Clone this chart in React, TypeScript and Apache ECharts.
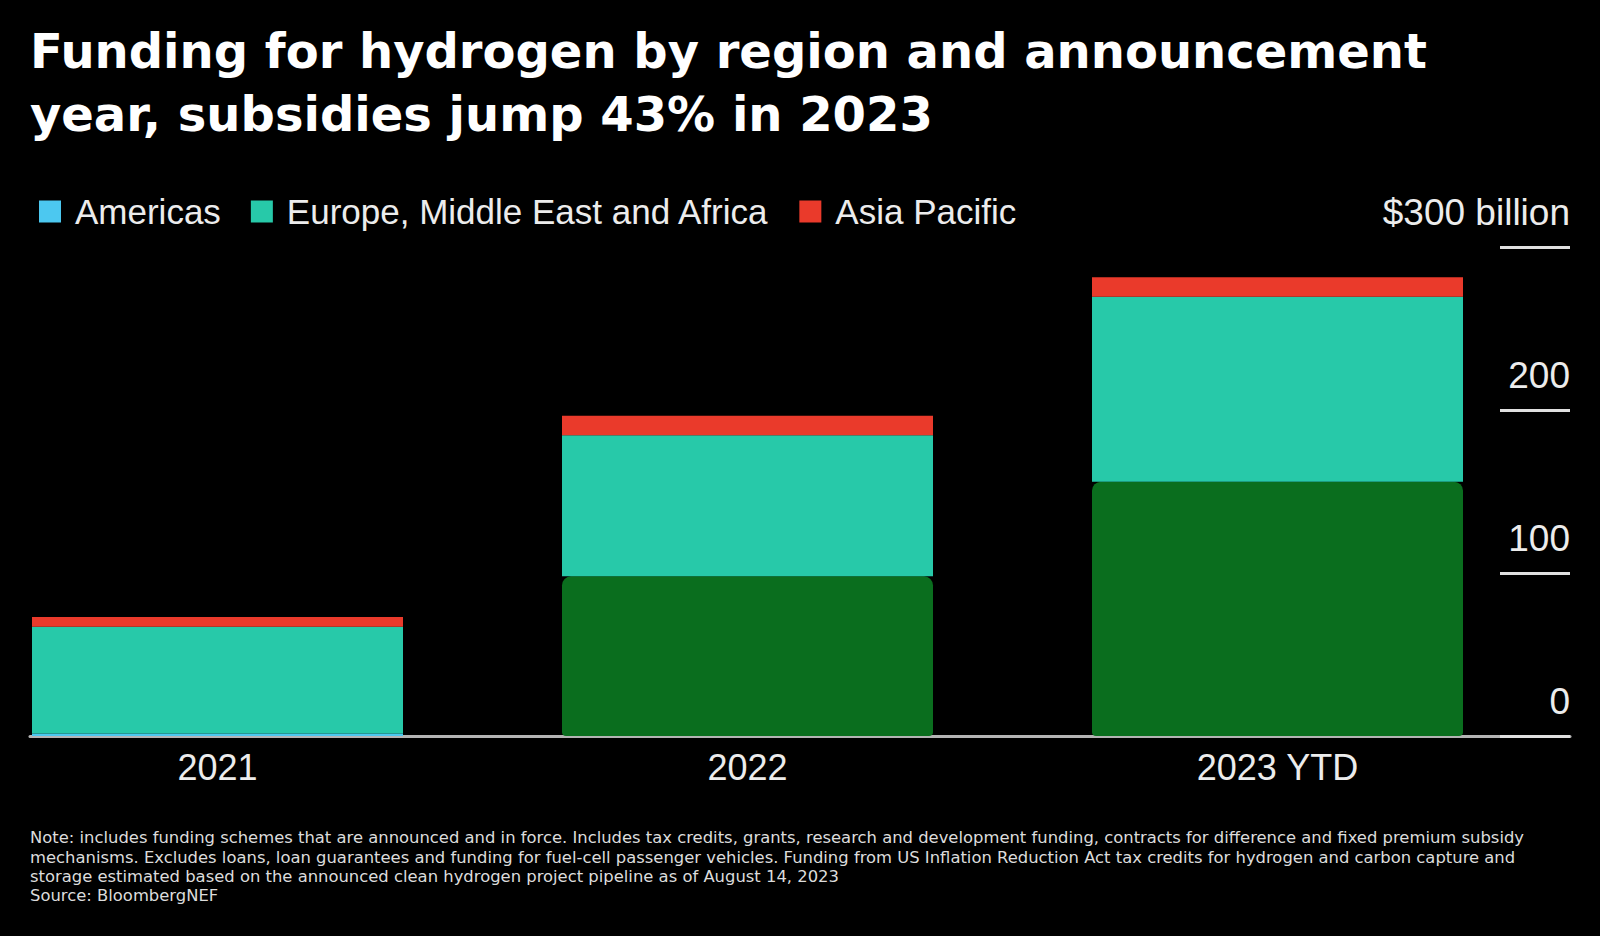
import React, { useEffect, useRef } from "react";
import * as echarts from "echarts";

const categories = ["2021", "2022", "2023 YTD"];
const seriesNames = ["Americas", "Europe, Middle East and Africa", "Asia Pacific"];
const americas = [1.5, 98, 156];
const emea = [65.5, 86.5, 113.5];
const asiaPacific = [6, 12, 12];

const titleLines = [
  "Funding for hydrogen by region and announcement",
  "year, subsidies jump 43% in 2023",
];
const noteLines = [
  "Note: includes funding schemes that are announced and in force. Includes tax credits, grants, research and development funding, contracts for difference and fixed premium subsidy",
  "mechanisms. Excludes loans, loan guarantees and funding for fuel-cell passenger vehicles. Funding from US Inflation Reduction Act tax credits for hydrogen and carbon capture and",
  "storage estimated based on the announced clean hydrogen project pipeline as of August 14, 2023",
  "Source: BloombergNEF",
];

const COLORS = {
  americas: "#4cc8f0",
  americasOverlay: "#0a6e1e",
  emea: "#27c9a9",
  apac: "#ea3a2b",
  text: "#ececec",
  axis: "#b4b4b4",
};

const SANS = "'Liberation Sans', Arial, sans-serif";

export default function App() {
  const ref = useRef<HTMLDivElement>(null);
  useEffect(() => {
    if (!ref.current) return;
    const chart = echarts.init(ref.current, null, { renderer: "svg" });
    const top = 247;
    const bottom = 200;
    const barCommon = {
      type: "bar",
      stack: "total",
      barWidth: 371,
      clip: false,
      xAxisIndex: 0,
      yAxisIndex: 0,
    };
    const option: any = {
      animation: false,
      backgroundColor: "#000",
      graphic: [
        {
          type: "text",
          left: 30,
          top: 19,
          style: {
            text: titleLines.join("\n"),
            fill: "#fff",
            font: "bold 48px 'DejaVu Sans'",
            lineHeight: 63,
          },
        },
        {
          type: "text",
          left: 30,
          top: 828,
          style: {
            text: noteLines.join("\n"),
            fill: "#dcdcdc",
            font: "16.4px 'DejaVu Sans'",
            lineHeight: 19.4,
          },
        },
      ],
      legend: {
        left: 34,
        top: 189,
        icon: "rect",
        itemWidth: 22,
        itemHeight: 22,
        itemGap: 30,
        data: seriesNames,
        textStyle: {
          color: COLORS.text,
          fontSize: 35,
          fontFamily: SANS,
          padding: [0, 0, 0, 9],
        },
      },
      grid: [
        { left: 217.5, right: 322.5, top, bottom },
        { left: 30, right: 30, top, bottom },
      ],
      xAxis: [
        {
          type: "category",
          gridIndex: 0,
          boundaryGap: false,
          data: categories,
          axisLine: { show: false },
          axisTick: { show: false },
          splitLine: { show: false },
          axisLabel: {
            interval: 0,
            color: COLORS.text,
            fontSize: 36,
            fontFamily: SANS,
            margin: 13,
          },
        },
        {
          type: "category",
          gridIndex: 1,
          data: categories,
          axisLine: { show: true, lineStyle: { color: COLORS.axis, width: 3 } },
          axisTick: { show: false },
          axisLabel: { show: false },
          splitLine: { show: false },
        },
      ],
      yAxis: [
        {
          type: "value",
          gridIndex: 0,
          min: 0,
          max: 300,
          interval: 100,
          show: false,
          splitLine: { show: false },
        },
        {
          type: "value",
          gridIndex: 1,
          position: "right",
          min: 0,
          max: 300,
          interval: 100,
          splitLine: { show: false },
          axisLine: { show: false, onZero: false },
          axisTick: {
            show: true,
            inside: true,
            length: 70,
            lineStyle: { color: "#e0e0e0", width: 3 },
          },
          axisLabel: {
            inside: true,
            margin: 0,
            color: COLORS.text,
            fontSize: 37,
            fontFamily: SANS,
            verticalAlign: "bottom",
            align: "right",
            padding: [0, 0, 16, 0],
            formatter: (v: number) => (v === 300 ? "$300 billion" : String(v)),
          },
        },
      ],
      series: [
        {
          ...barCommon,
          name: seriesNames[0],
          itemStyle: { color: COLORS.americas },
          data: americas.map((v, i) =>
            i === 0
              ? { value: v }
              : {
                  value: v,
                  itemStyle: {
                    color: COLORS.americasOverlay,
                    borderRadius: [9, 9, 4, 4],
                  },
                }
          ),
        },
        {
          ...barCommon,
          name: seriesNames[1],
          itemStyle: { color: COLORS.emea },
          data: emea,
        },
        {
          ...barCommon,
          name: seriesNames[2],
          itemStyle: { color: COLORS.apac },
          data: asiaPacific,
        },
      ],
    };
    chart.setOption(option);
    return () => chart.dispose();
  }, []);
  return (
    <div
      ref={ref}
      style={{ position: "fixed", left: 0, top: 0, width: 1600, height: 936 }}
    />
  );
}
